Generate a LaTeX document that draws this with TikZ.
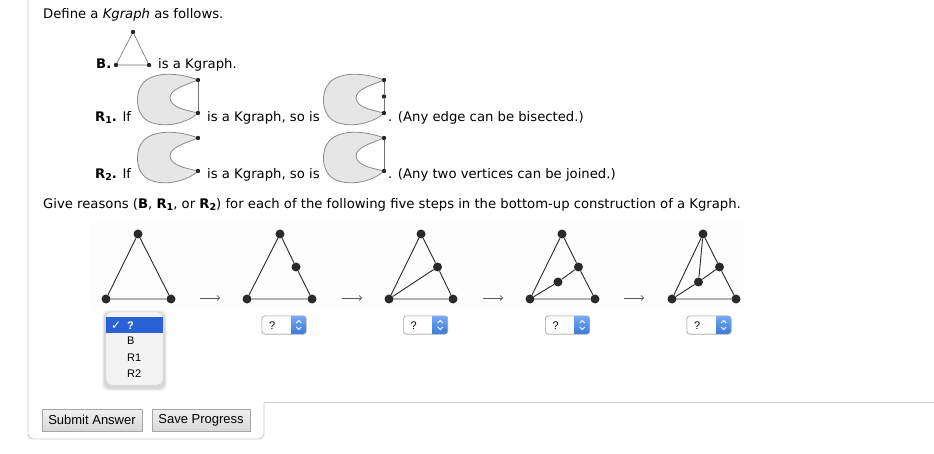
\documentclass[tikz,border=0pt]{standalone}
\usepackage{fontspec}
\setmainfont{DejaVu Sans}
\newfontfamily\uifont{Liberation Sans}
\usetikzlibrary{arrows.meta,calc}
\definecolor{edgegray}{HTML}{2A2A2A}
\definecolor{blobfill}{HTML}{E6E6E6}
\definecolor{blobline}{HTML}{8A8A8A}
\definecolor{panelline}{HTML}{CCCCCC}
\definecolor{selblue}{HTML}{3D86F0}
\definecolor{menublue}{HTML}{2A62D6}
\definecolor{menufill}{HTML}{F3F3F3}
\newcommand{\Rs}[1]{\textbf{R\raisebox{-0.3ex}{\fontsize{9.5}{10}\selectfont\bfseries #1}}}
\begin{document}
\begin{tikzpicture}[x=1pt,y=-1pt,
  txt/.style={anchor=base west, inner sep=0, font=\fontsize{13.2}{15}\selectfont},
  uitxt/.style={anchor=base west, inner sep=0, font=\uifont\fontsize{11}{13}\selectfont},
  vtx/.style={circle, fill=edgegray, inner sep=0, minimum size=9pt},
  svtx/.style={circle, fill=black!85, inner sep=0, minimum size=4.4pt},
  edge/.style={draw=edgegray, line width=0.9pt},
  sedge/.style={draw=black!55, line width=0.6pt},
  blob/.style={fill=blobfill, draw=blobline, line width=0.8pt},
  stepar/.style={draw=black!65, line width=0.7pt, -{Straight Barb[length=2.5pt,width=5pt]}},
  selbox/.style={draw=black!30, fill=white, rounded corners=3pt, minimum width=44pt, minimum height=18pt, inner sep=0},
  btn/.style={draw=black!35, top color=white!94!black, bottom color=white!85!black, minimum height=22pt, inner sep=0, font=\uifont\fontsize{13}{15}\selectfont}
]
\useasboundingbox (0,0) rectangle (934,454);
\fill[white] (0,0) rectangle (934,454);

% panel border
\draw[panelline, line width=0.9pt, rounded corners=5pt] (28,0) -- (28,439) -- (264,439) -- (264,402);
\draw[panelline, line width=0.9pt] (264,402) -- (934,402);

% text lines
\node[txt] (t0) at (43,19) {Define a \textit{Kgraph} as follows.};
\node[txt] (tB) at (96,68.5) {\textbf{B.}};
\node[txt] (tB2) at (158,68.5) {is a Kgraph.};
\node[txt] (tR1) at (95,121.5) {\Rs{1}\textbf{.} If};
\node[txt] (tR1b) at (207,121.5) {is a Kgraph, so is};
\node[txt] (tR1c) at (388,121.5) {. (Any edge can be bisected.)};
\node[txt] (tR2) at (95,178.5) {\Rs{2}\textbf{.} If};
\node[txt] (tR2b) at (207,178.5) {is a Kgraph, so is};
\node[txt] (tR2c) at (388,178.5) {. (Any two vertices can be joined.)};
\node[txt] (tG) at (43,208.5) {Give reasons (\textbf{B}, \Rs{1}, or \Rs{2}) for each of the following five steps in the bottom-up construction of a Kgraph.};

% B triangle
\node[svtx] (ba) at (133,32) {};
\node[svtx] (bb) at (116,65) {};
\node[svtx] (bc) at (149,65) {};
\draw[sedge] (ba) -- (bb) (ba) -- (bc) (bb) -- (bc);

% blobs
\newcommand{\blobpath}{(0,0) .. controls (-18,-7) and (-42,-9) .. (-54,2) .. controls (-64,12) and (-63,36) .. (-48,42) .. controls (-34,48) and (-12,44) .. (0,33) .. controls (-12,30) and (-27,28) .. (-28,18) .. controls (-28,9) and (-12,5) .. cycle}
\begin{scope}[shift={(198,80)}]
  \path[blob] \blobpath;
\end{scope}
\begin{scope}[shift={(384,80)}]
  \path[blob] \blobpath;
\end{scope}
\begin{scope}[shift={(198,138)}]
  \path[blob] \blobpath;
\end{scope}
\begin{scope}[shift={(384,138)}]
  \path[blob] \blobpath;
\end{scope}
\node[svtx] (p1t) at (198,80) {};
\node[svtx] (p1b) at (198,113) {};
\draw[sedge] (p1t) -- (p1b);
\node[svtx] (p2t) at (384,80) {};
\node[svtx] (p2m) at (384,96.5) {};
\node[svtx] (p2b) at (384,113) {};
\draw[sedge] (p2t) -- (p2m) -- (p2b);
\node[svtx] (p3t) at (198,138) {};
\node[svtx] (p3b) at (198,171) {};
\node[svtx] (p4t) at (384,138) {};
\node[svtx] (p4b) at (384,171) {};
\draw[sedge] (p4t) -- (p4b);

% construction row background
\fill[black!0.8] (90,222) rectangle (745,310);

% triangle 1
\node[vtx] (a1) at (138,234) {};
\node[vtx] (b1) at (106,299) {};
\node[vtx] (c1) at (171,299) {};
\draw[edge] (a1) -- (b1) (a1) -- (c1) (b1) -- (c1);
% triangle 2
\node[vtx] (a2) at (280,234) {};
\node[vtx] (b2) at (247,299) {};
\node[vtx] (c2) at (312,299) {};
\node[vtx] (m2) at (296,267) {};
\draw[edge] (a2) -- (b2) (a2) -- (m2) (m2) -- (c2) (b2) -- (c2);
% triangle 3
\node[vtx] (a3) at (421,234) {};
\node[vtx] (b3) at (389,299) {};
\node[vtx] (c3) at (453,299) {};
\node[vtx] (m3) at (437.5,267) {};
\draw[edge] (a3) -- (b3) (a3) -- (m3) (m3) -- (c3) (b3) -- (c3) (b3) -- (m3);
% triangle 4
\node[vtx] (a4) at (562,234) {};
\node[vtx] (b4) at (530,299) {};
\node[vtx] (c4) at (595,299) {};
\node[vtx] (m4) at (578.5,267) {};
\node[vtx] (i4) at (558,282) {};
\draw[edge] (a4) -- (b4) (a4) -- (m4) (m4) -- (c4) (b4) -- (c4) (b4) -- (i4) (i4) -- (m4);
% triangle 5
\node[vtx] (a5) at (703,234) {};
\node[vtx] (b5) at (672,299) {};
\node[vtx] (c5) at (736,299) {};
\node[vtx] (m5) at (719.5,267) {};
\node[vtx] (i5) at (698.5,282) {};
\draw[edge] (a5) -- (b5) (a5) -- (m5) (m5) -- (c5) (b5) -- (c5) (b5) -- (i5) (i5) -- (m5) (a5) -- (i5);

% step arrows
\coordinate (s1a) at (200,298); \coordinate (s1b) at (220,298);
\coordinate (s2a) at (342,298); \coordinate (s2b) at (362,298);
\coordinate (s3a) at (483,298); \coordinate (s3b) at (503,298);
\coordinate (s4a) at (624,298); \coordinate (s4b) at (644,298);
\draw[stepar] (s1a) -- (s1b);
\draw[stepar] (s2a) -- (s2b);
\draw[stepar] (s3a) -- (s3b);
\draw[stepar] (s4a) -- (s4b);

% closed select boxes
\foreach \n/\x in {1/284, 2/425.5, 3/567.5, 4/709} {
  \node[selbox] (sel\n) at (\x,325) {};
  \begin{scope}
    \clip[rounded corners=3pt] (sel\n.south west) rectangle (sel\n.north east);
    \fill[top color=selblue!70!white, bottom color=selblue!90!black] ($(sel\n.north east)+(-15,0)$) rectangle (sel\n.south east);
  \end{scope}
  \draw[black!30, rounded corners=3pt, line width=0.6pt] (sel\n.south west) rectangle (sel\n.north east);
  \draw[white, line width=0.9pt] ($(sel\n.east)+(-10,-2)$) -- ++(2.5,-2.5) -- ++(2.5,2.5);
  \draw[white, line width=0.9pt] ($(sel\n.east)+(-10,2)$) -- ++(2.5,2.5) -- ++(2.5,-2.5);
  \node[uitxt] (selq\n) at ($(sel\n.west)+(7,4)$) {?};
}

% open menu
\foreach \k/\o in {4/0.04, 3/0.05, 2/0.07} {
  \fill[black, opacity=\o, rounded corners=6pt] ($(106,312)+(-\k,-\k+2)$) rectangle ($(163,385)+(\k,\k+2)$);
}
\node[draw=black!18, fill=menufill, rounded corners=5pt, minimum width=57pt, minimum height=73pt, inner sep=0] (menu) at (134.5,348.5) {};
\fill[menublue] (106,317) rectangle (163,333);
\node[anchor=base west, inner sep=0, text=white, font=\fontsize{12}{14}\selectfont] (mchk) at (111,329.5) {✓};
\node[uitxt, text=white] (mq) at (127,329) {\textbf{?}};
\node[uitxt] (mB) at (127,344) {B};
\node[uitxt] (mR1) at (127,361) {R1};
\node[uitxt] (mR2) at (127,377) {R2};

% buttons
\node[btn, minimum width=100pt] (submit) at (92,420) {Submit Answer};
\node[btn, minimum width=98pt] (save) at (201,420) {Save Progress};
\end{tikzpicture}
\end{document}
